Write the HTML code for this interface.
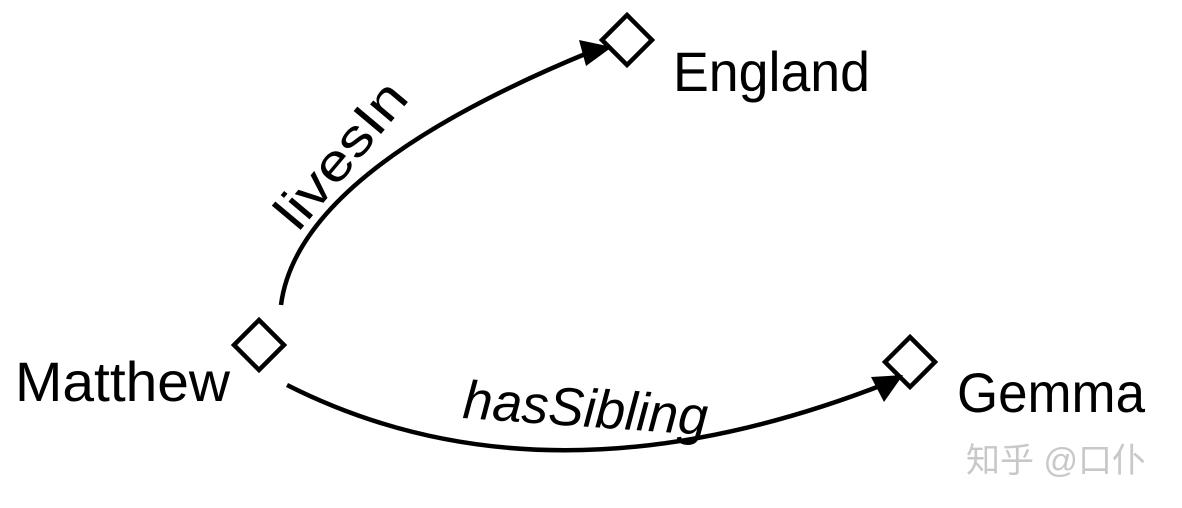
<!DOCTYPE html>
<html><head><meta charset="utf-8"><style>html,body{margin:0;padding:0;background:#fff;}svg{display:block}</style></head>
<body>
<svg width="1182" height="508" viewBox="0 0 1182 508" xmlns="http://www.w3.org/2000/svg">
<g fill="none" stroke="#000" stroke-width="4.5">
<path d="M281,305 Q298,172 590,52"/>
<path d="M287,385 Q546,516 885,384"/>
<polygon fill="#fff" points="259,320 284,345 259,370 234,345"/>
<polygon fill="#fff" points="627,15 652,40 627,65 602,40"/>
<polygon fill="#fff" points="910,337 935,362 910,387 885,362"/>
</g>
<polygon points="612,47 579,40 586,66" fill="#000"/>
<polygon points="903,375 871,377 884,402" fill="#000"/>
<g font-family="Liberation Sans, sans-serif" fill="#000">
<text x="15" y="401" font-size="56" textLength="215" lengthAdjust="spacingAndGlyphs">Matthew</text>
<text x="673" y="91" font-size="56" textLength="197" lengthAdjust="spacingAndGlyphs">England</text>
<text x="957" y="412" font-size="56" textLength="188" lengthAdjust="spacingAndGlyphs">Gemma</text>
<text x="0" y="0" font-size="54" font-style="italic" textLength="245" lengthAdjust="spacingAndGlyphs" transform="translate(462,418) rotate(4)">hasSibling</text>
<text x="0" y="0" font-size="52" textLength="175" lengthAdjust="spacingAndGlyphs" transform="translate(298,233) rotate(-50)">livesIn</text>
</g>
<text x="966" y="472" font-family="Liberation Sans, 'Noto Sans CJK SC', sans-serif" font-size="34" fill="#c8c8c8">知乎 @口仆</text>
</svg>
</body></html>
